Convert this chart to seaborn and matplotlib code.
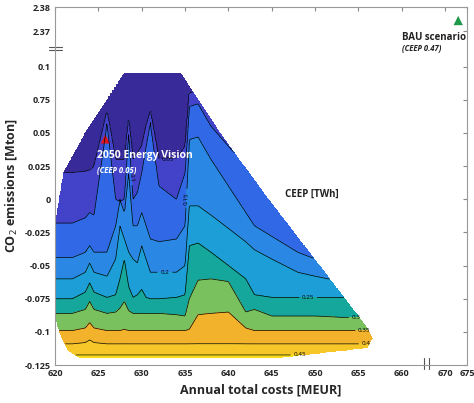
import numpy as np
import matplotlib
matplotlib.use("Agg")
import matplotlib.pyplot as plt
from matplotlib.path import Path
import seaborn as sns
import pandas as pd

sns.set_style("white")
plt.rcParams['font.family'] = ['Open Sans', 'DejaVu Sans']

# --- data ---
levels = [0.05, 0.10, 0.15, 0.20, 0.25, 0.30, 0.35, 0.40, 0.45]
xs = [620, 622, 623.5, 624, 624.5, 626, 627, 627.5, 628, 628.5, 629, 629.5, 630, 630.5,
      631, 632, 634, 635, 635.5, 636.5, 638, 640, 642, 643, 645, 648, 650, 653, 657]
b045 = [-0.117]*29
b040 = [-0.109, -0.109, -0.108, -0.106, -0.108] + [-0.109]*24
b035 = [-0.099, -0.099, -0.097, -0.093, -0.097, -0.099, -0.099, -0.099, -0.098, -0.099, -0.099, -0.099, -0.099, -0.099,
        -0.099, -0.099, -0.099, -0.099, -0.098, -0.087, -0.086, -0.085, -0.097, -0.099, -0.099, -0.099, -0.099, -0.099, -0.099]
b030 = [-0.086, -0.086, -0.083, -0.077, -0.083, -0.086, -0.085, -0.082, -0.077, -0.084, -0.086, -0.086, -0.086, -0.086,
        -0.086, -0.086, -0.087, -0.088, -0.075, -0.061, -0.060, -0.062, -0.085, -0.083, -0.088, -0.088, -0.088, -0.089, -0.089]
b025 = [-0.075, -0.075, -0.070, -0.063, -0.070, -0.074, -0.072, -0.060, -0.045, -0.066, -0.074, -0.072, -0.068, -0.074,
        -0.075, -0.075, -0.074, -0.072, -0.035, -0.033, -0.040, -0.050, -0.060, -0.072, -0.074, -0.074, -0.074, -0.074, -0.074]
b020 = [-0.060, -0.060, -0.055, -0.048, -0.055, -0.058, -0.045, -0.020, -0.030, -0.040, -0.045, -0.048, -0.035, -0.045,
        -0.055, -0.055, -0.055, -0.050, -0.005, -0.005, -0.012, -0.022, -0.032, -0.038, -0.045, -0.055, -0.058, -0.062, -0.065]
b015 = [-0.044, -0.044, -0.040, -0.035, -0.040, -0.040, -0.020, 0.000, -0.010, 0.020, -0.020, -0.020, -0.010, -0.020,
        -0.030, -0.032, -0.030, -0.020, 0.045, 0.047, 0.030, 0.010, -0.010, -0.020, -0.028, -0.040, -0.045, -0.050, -0.055]
b010 = [-0.018, -0.018, -0.014, -0.010, -0.012, 0.058, 0.000, -0.002, 0.000, 0.050, 0.000, 0.005, 0.020, 0.040,
        0.058, 0.010, 0.000, 0.020, 0.070, 0.072, 0.055, 0.040, 0.025, 0.020, 0.010, -0.010, -0.020, -0.030, -0.040]
b005 = [0.020, 0.020, 0.021, 0.022, 0.025, 0.066, 0.030, 0.030, 0.030, 0.060, 0.030, 0.035, 0.040, 0.055,
        0.066, 0.030, 0.030, 0.040, 0.080, 0.082, 0.070, 0.055, 0.045, 0.040, 0.030, 0.010, 0.000, -0.010, -0.020]
boundaries = [b005, b010, b015, b020, b025, b030, b035, b040, b045]

# feasible region outline (cost, emissions)
region_x = [628, 634.5, 639, 644.6, 650.5, 656, 656.6, 656, 645, 623, 621.5, 620.5, 620, 620, 620.5, 621, 623.5, 628]
region_y = [0.095, 0.095, 0.05, 0.0, -0.05, -0.097, -0.105, -0.112, -0.12, -0.12, -0.114, -0.1, -0.088, -0.02, 0.0, 0.02, 0.05, 0.095]

scen_names = ["2050 Energy Vision", "BAU scenario"]
scen_x = [625.8, 673.0]
scen_y = [0.0455, 2.3745]

colors = ["#382a98", "#4343c9", "#3068e6", "#2a88e4", "#1d9ed6", "#15a79c", "#79c15e",
          "#f3b22c", "#f7c629", "#f8dc1c"]

# --- axis breaks ---
def xmap(x):
    x = np.asarray(x, float)
    return np.where(x > 660, 660 + (x - 660) / 2.0, x)

def ymap(y):
    y = np.asarray(y, float)
    return np.where(y > 1, 0.1265 + (y - 2.37) * 1.82, y)

# --- build field ---
gx = np.linspace(619.5, 657.5, 500)
gy = np.linspace(-0.125, 0.1, 500)
B = np.array([np.interp(gx, xs, b) for b in boundaries])
Z = np.zeros((gy.size, gx.size))
lv = np.array([0.02] + levels + [0.48])
for j in range(gx.size):
    yb = np.concatenate([[1.0], B[:, j], [-1.0]])
    Z[:, j] = np.interp(gy, yb[::-1], lv[::-1])
GX, GY = np.meshgrid(gx, gy)
path = Path(np.column_stack([region_x, region_y]))
inside = path.contains_points(np.column_stack([GX.ravel(), GY.ravel()])).reshape(GX.shape)
Zm = np.ma.masked_where(~inside, Z)

fig = plt.figure(figsize=(4.74, 4.03), dpi=100)
ax = fig.add_axes([0.116, 0.094, 0.869, 0.889])
bounds = [-1] + levels + [1]
ax.contourf(GX, GY, Zm, levels=bounds, colors=colors)
cs = ax.contour(GX, GY, Zm, levels=levels, colors="k", linewidths=0.5)
ax.clabel(cs, fmt="%g", fontsize=4.5, inline=True)

df = pd.DataFrame({"x": xmap(scen_x), "y": ymap(scen_y), "name": scen_names})
sns.scatterplot(data=df, x="x", y="y", hue="name", palette=["#e0141c", "#1e9a4a"],
                marker="^", s=45, edgecolor="none", legend=False, ax=ax)

ax.text(624.9, 0.031, "2050 Energy Vision", color="white", fontsize=7.5, fontweight="bold")
ax.text(624.9, 0.020, "(CEEP 0.05)", color="white", fontsize=5.5, fontweight="bold", style="italic")
ax.text(660.0, 0.120, "BAU scenario", color="#222", fontsize=7, fontweight="bold")
ax.text(660.0, 0.1115, "(CEEP 0.47)", color="#222", fontsize=5.5, fontweight="bold", style="italic")
ax.text(646.5, 0.0015, "CEEP [TWh]", color="#222", fontsize=7, fontweight="bold")

xt = [620, 625, 630, 635, 640, 645, 650, 655, 660, 670, 675]
ax.set_xticks(xmap(xt))
ax.set_xticklabels([str(v) for v in xt], fontsize=6.5, fontweight="bold")
yt_vals = [-0.125, -0.1, -0.075, -0.05, -0.025, 0, 0.025, 0.05, 0.075, 0.1, 2.37, 2.38]
yt_lab = ["-0.125", "-0.1", "-0.075", "-0.05", "-0.025", "0", "0.025", "0.05", "0.75", "0.1", "2.37", "2.38"]
ax.set_yticks(ymap(yt_vals))
ax.set_yticklabels(yt_lab, fontsize=6.5, fontweight="bold")
ax.set_xlim(620, 667.5)
ax.set_ylim(-0.125, 0.145)
ax.tick_params(direction="in", length=3, top=True, right=True, color="#888", pad=3)
for s in ax.spines.values():
    s.set_color("#999")
    s.set_linewidth(0.8)
ax.set_xlabel("Annual total costs [MEUR]", fontsize=9, fontweight="bold")
ax.set_ylabel("CO$_2$ emissions [Mton]", fontsize=9, fontweight="bold")

ax.plot([662.6, 662.6], [-0.128, -0.120], color="#555", lw=0.8, clip_on=False)
ax.plot([663.1, 663.1], [-0.128, -0.120], color="#555", lw=0.8, clip_on=False)
ax.plot([619.3, 620.8], [0.1145, 0.1145], color="#555", lw=0.8, clip_on=False)
ax.plot([619.3, 620.8], [0.1125, 0.1125], color="#555", lw=0.8, clip_on=False)

fig.savefig("out.png", dpi=100)
